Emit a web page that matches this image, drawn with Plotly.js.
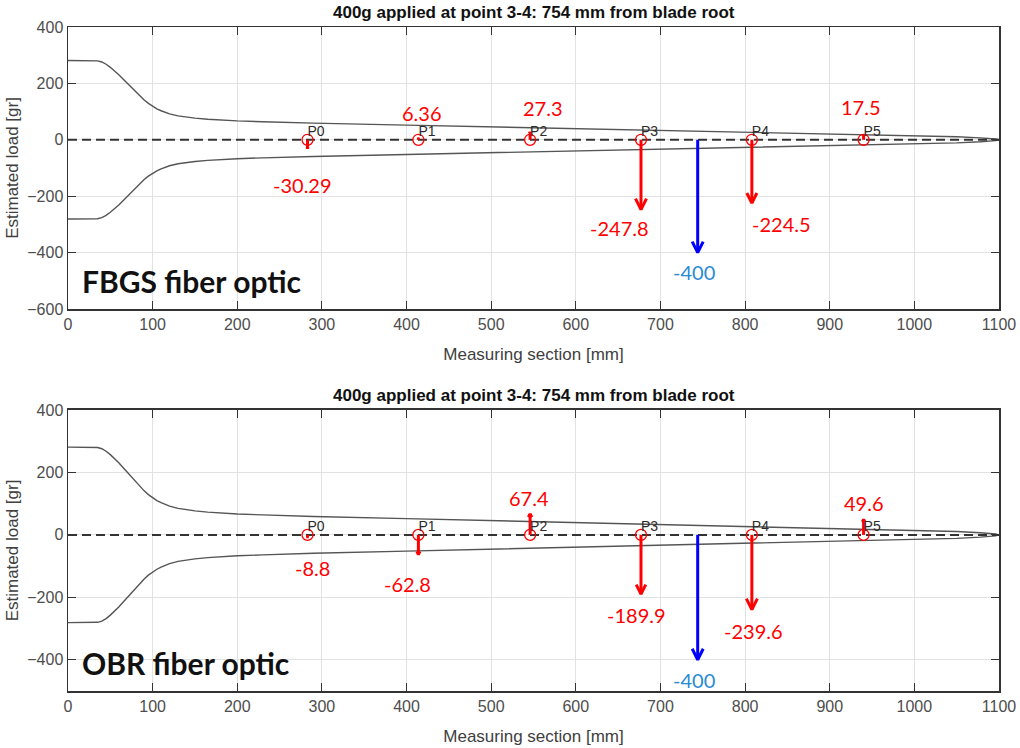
<!DOCTYPE html>
<html>
<head>
<meta charset="utf-8">
<script src="https://cdn.plot.ly/plotly-3.0.1.min.js"></script>
<style>
  html, body { margin: 0; padding: 0; background: #ffffff; }
  #chart { width: 1020px; height: 748px; }
</style>
</head>
<body>
<div id="chart"></div>
<script>
// Measuring points along the blade section [mm]
const pointNames = ['P0', 'P1', 'P2', 'P3', 'P4', 'P5'];
const pointPos = [283, 414, 546, 677, 808, 940];

// Estimated load at each point [gr]
const fbgsLoads = [-30.29, 6.36, 27.3, -247.8, -224.5, 17.5];
const obrLoads = [-8.8, -62.8, 67.4, -189.9, -239.6, 49.6];

// Applied reference load
const appliedPos = 744;
const appliedLoad = -400;

// Blade outline (half thickness, drawn mirrored about zero)
const profileX = [0, 30, 35, 40, 45, 50, 55, 60, 65, 70, 75, 80, 85, 90, 95, 100, 105, 110, 115, 120, 130, 140, 150, 165, 180, 200, 230, 260, 290,
                  400, 500, 600, 686, 800, 941, 1000, 1050, 1078, 1090, 1096, 1100];
const profileHalf = [281, 281, 280, 276, 268, 257, 245, 231, 216, 201, 186, 171, 155, 141, 129, 119, 110, 103, 97, 92, 85, 80, 77, 73, 70, 67, 64, 61, 59,
                     52, 46, 39, 33, 27, 18, 14, 11, 7, 5, 3, 0];

// Text placement of the value labels, pixel offsets from each arrow tip
const fbgsLabelDx = [-5, 4, 13, -21, 30, -3];
const fbgsLabelDy = [37, -25, -24, 18, 21, -28];
const obrLabelDx = [5, -11, -1, -4, 2, 0];
const obrLabelDy = [30, 30, -16, 21, 21, -16];
const appliedLabelOff = [[-4, 19], [-4, 20]];

const RED = '#ff0000';
const BLUE = '#0000ff';
const LABEL_BLUE = '#2a8bd6';
const sans = 'Liberation Sans, Arial, sans-serif';
const tickFont = { family: sans, size: 16, color: '#4d4d4d' };
const titleFont = { family: sans, size: 17, color: '#404040' };
const calloutFont = 'Lato, Carlito, Calibri, sans-serif';

const W = 1020, H = 748;
const margin = { l: 68, r: 21, t: 27, b: 57 };
const xRange = [0, 1100];
const panels = [
  { xa: 'x', ya: 'y', domain: [0.5753, 1], range: [-600, 400] },
  { xa: 'x2', ya: 'y2', domain: [0, 0.4232], range: [-500, 400] }
];

function profileTraces(xa, ya) {
  const lower = profileHalf.map(v => -v);
  const style = { color: '#555555', width: 1.4 };
  return [
    { x: profileX, y: profileHalf, xaxis: xa, yaxis: ya, mode: 'lines', type: 'scatter', line: style, hoverinfo: 'skip' },
    { x: profileX, y: lower, xaxis: xa, yaxis: ya, mode: 'lines', type: 'scatter', line: style, hoverinfo: 'skip' },
    { x: xRange, y: [0, 0], xaxis: xa, yaxis: ya, mode: 'lines', type: 'scatter',
      line: { color: '#333333', width: 2, dash: '9px,5px' }, hoverinfo: 'skip' }
  ];
}

// Quiver-style arrow from the zero line to the load value, head scaled with its length
function arrowTrace(p, x, v, color) {
  const plotW = W - margin.l - margin.r;
  const plotH = (H - margin.t - margin.b) * (p.domain[1] - p.domain[0]);
  const pxPerX = plotW / (xRange[1] - xRange[0]);
  const pxPerY = plotH / (p.range[1] - p.range[0]);
  const lenPx = Math.abs(v) * pxPerY;
  const headPx = Math.min(11, 0.16 * lenPx);
  const hy = headPx / pxPerY * Math.sign(v);
  const hx = 0.5 * headPx / pxPerX;
  return {
    x: [x, x, null, x - hx, x, x + hx],
    y: [0, v, null, v - hy, v, v - hy],
    xaxis: p.xa, yaxis: p.ya, mode: 'lines', type: 'scatter',
    line: { color: color, width: 3 }, hoverinfo: 'skip'
  };
}

function pointTraces(p) {
  return [
    { x: pointPos, y: pointPos.map(() => 0), xaxis: p.xa, yaxis: p.ya, mode: 'markers', type: 'scatter',
      marker: { symbol: 'circle-open', size: 11, color: RED, line: { width: 1.3, color: RED } }, hoverinfo: 'skip' },
    { x: pointPos, y: pointPos.map(() => 0), xaxis: p.xa, yaxis: p.ya, mode: 'text', type: 'scatter',
      text: pointNames, textposition: 'top right',
      textfont: { family: sans, size: 14, color: '#2b2b2b' }, hoverinfo: 'skip' }
  ];
}

function labelAnn(p, x, v, dx, dy, color) {
  return {
    xref: p.xa, yref: p.ya, x: x, y: v, text: String(v), showarrow: false,
    xshift: dx, yshift: -dy, xanchor: 'center', yanchor: 'middle',
    font: { family: calloutFont, size: 20, color: color }
  };
}

function panelAnnotations(p, loads, dxs, dys, appOff, name) {
  const anns = loads.map((v, i) => labelAnn(p, pointPos[i], v, dxs[i], dys[i], RED));
  anns.push(labelAnn(p, appliedPos, appliedLoad, appOff[0], appOff[1], LABEL_BLUE));
  anns.push({
    xref: p.xa + ' domain', yref: p.ya + ' domain', x: 0.5, y: 1, xanchor: 'center', yanchor: 'bottom',
    yshift: 3, showarrow: false, text: '<b>400g applied at point 3-4: 754 mm from blade root</b>',
    font: { family: sans, size: 17, color: '#111111' }
  });
  anns.push({
    xref: p.xa + ' domain', yref: p.ya + ' domain', x: 0.013, y: 0.098, xanchor: 'left', yanchor: 'middle',
    showarrow: false, text: '<b>' + name + '</b>',
    font: { family: calloutFont, size: 30, color: '#111111' }
  });
  return anns;
}

function panelData(p, loads) {
  const traces = profileTraces(p.xa, p.ya);
  loads.forEach((v, i) => traces.push(arrowTrace(p, pointPos[i], v, RED)));
  traces.push(arrowTrace(p, appliedPos, appliedLoad, BLUE));
  return traces.concat(pointTraces(p));
}

function xAxis(anchor) {
  return {
    anchor: anchor, domain: [0, 1], range: xRange, tick0: 0, dtick: 100,
    ticks: 'inside', ticklen: 8, tickcolor: '#333333', mirror: 'allticks',
    showline: true, linecolor: '#333333', linewidth: 1.5,
    showgrid: true, gridcolor: '#e2e2e2', gridwidth: 1, zeroline: false,
    tickfont: tickFont,
    title: { text: 'Measuring section [mm]', font: titleFont, standoff: 16 }
  };
}

function yAxis(anchor, p) {
  return {
    anchor: anchor, domain: p.domain, range: p.range, tick0: 0, dtick: 200,
    ticks: 'inside', ticklen: 8, tickcolor: '#333333', mirror: 'allticks',
    showline: true, linecolor: '#333333', linewidth: 1.5,
    showgrid: true, gridcolor: '#e2e2e2', gridwidth: 1, zeroline: false,
    tickfont: tickFont,
    title: { text: 'Estimated load [gr]', font: titleFont, standoff: 4 }
  };
}

const data = panelData(panels[0], fbgsLoads).concat(panelData(panels[1], obrLoads));

const layout = {
  width: W, height: H, margin: margin,
  paper_bgcolor: '#ffffff', plot_bgcolor: '#ffffff',
  showlegend: false,
  xaxis: xAxis('y'),
  yaxis: yAxis('x', panels[0]),
  xaxis2: xAxis('y2'),
  yaxis2: yAxis('x2', panels[1]),
  annotations: panelAnnotations(panels[0], fbgsLoads, fbgsLabelDx, fbgsLabelDy, appliedLabelOff[0], 'FBGS fiber optic')
    .concat(panelAnnotations(panels[1], obrLoads, obrLabelDx, obrLabelDy, appliedLabelOff[1], 'OBR fiber optic'))
};

Plotly.newPlot('chart', data, layout, { displayModeBar: false, staticPlot: true });
</script>
</body>
</html>
